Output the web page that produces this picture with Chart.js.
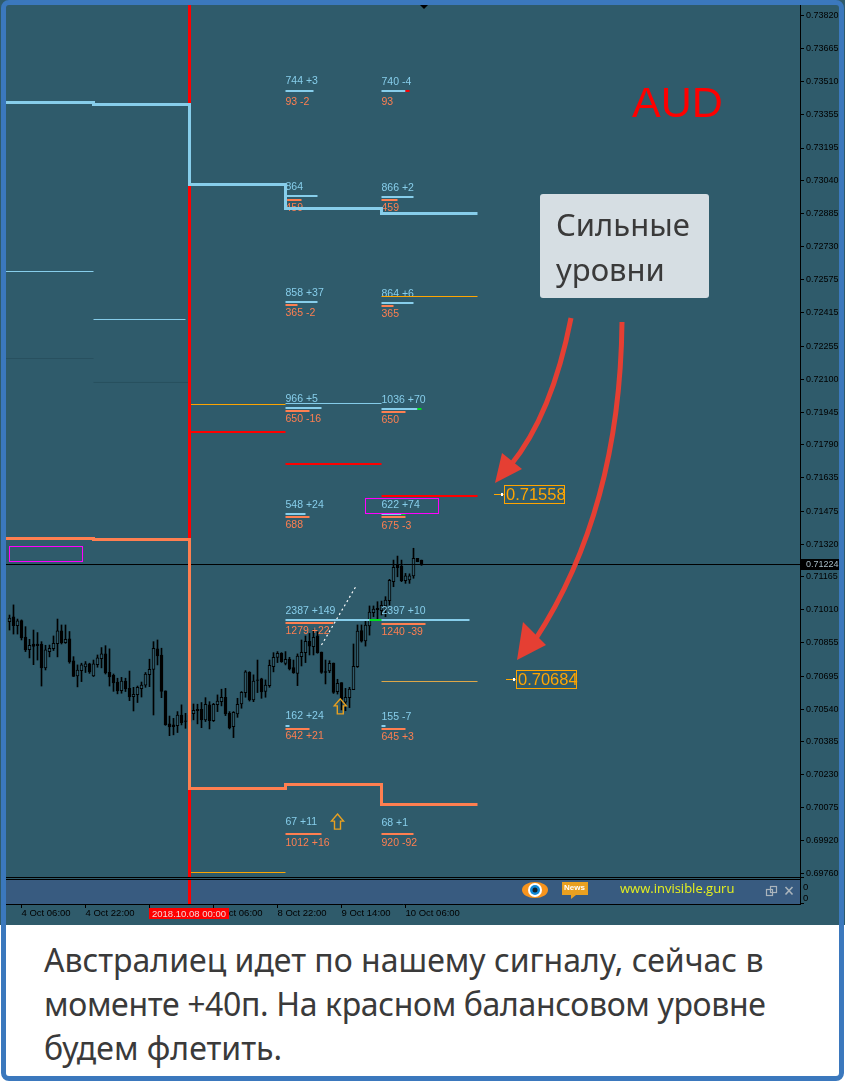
<!DOCTYPE html>
<html>
<head>
<meta charset="utf-8">
<title>AUD</title>
<script src="https://cdn.jsdelivr.net/npm/chart.js@4/dist/chart.umd.min.js"></script>
<style>
html, body { margin: 0; padding: 0; background: #fff; }
#wrap { position: relative; width: 845px; height: 1082px; overflow: hidden; }
#c { position: absolute; left: 0; top: 0; }
#frame { position: absolute; left: 1px; top: 0; width: 843px; height: 1081px; box-sizing: border-box;
  border: 5px solid #3b78bd; border-radius: 8px; pointer-events: none; }
#caption { position: absolute; left: 44px; top: 938px; font: 32px/44px "Noto Sans", sans-serif; color: #3a3a3a; white-space: nowrap; }
#caption span { letter-spacing: -0.35px; }
</style>
</head>
<body>
<div id="wrap">
  <canvas id="c" width="845" height="925"></canvas>
  <div id="caption">Австралиец идет по нашему сигналу, сейчас в<br><span>моменте +40п. На красном балансовом уровне</span><br>будем флетить.</div>
  <div id="frame"></div>
</div>
<script>
// H1 candles, index 45 = 2018.10.08 00:00
const opens = [0.70954,0.70976,0.70935,0.70959,0.70881,0.70821,0.70847,0.70847,0.70848,0.70735,0.70812,0.70826,0.70850,0.70910,0.70854,0.70872,0.70768,0.70697,0.70722,0.70739,0.70754,0.70697,0.70750,0.70779,0.70801,0.70714,0.70700,0.70668,0.70627,0.70672,0.70638,0.70599,0.70608,0.70637,0.70653,0.70703,0.70728,0.70825,0.70796,0.70626,0.70470,0.70465,0.70462,0.70512,0.70484,0.70481,0.70518,0.70539,0.70539,0.70489,0.70560,0.70485,0.70561,0.70575,0.70596,0.70520,0.70457,0.70517,0.70564,0.70618,0.70714,0.70583,0.70678,0.70683,0.70623,0.70651,0.70741,0.70785,0.70804,0.70756,0.70777,0.70736,0.70709,0.70788,0.70807,0.70861,0.70835,0.70886,0.70810,0.70717,0.70720,0.70758,0.70622,0.70665,0.70573,0.70594,0.70632,0.70741,0.70911,0.70862,0.70933,0.70996,0.71017,0.71006,0.71028,0.71053,0.71143,0.71220,0.71217,0.71148,0.71151,0.71170,0.71253,0.71245];
const highs = [0.70985,0.71033,0.70966,0.70962,0.70930,0.70870,0.70914,0.70902,0.70859,0.70842,0.70843,0.70886,0.70966,0.70938,0.70938,0.70907,0.70788,0.70749,0.70757,0.70765,0.70757,0.70772,0.70796,0.70831,0.70840,0.70825,0.70706,0.70686,0.70690,0.70686,0.70720,0.70643,0.70649,0.70668,0.70713,0.70776,0.70859,0.70867,0.70828,0.70626,0.70507,0.70496,0.70528,0.70560,0.70520,0.70536,0.70564,0.70563,0.70571,0.70594,0.70575,0.70567,0.70607,0.70634,0.70638,0.70528,0.70528,0.70591,0.70623,0.70722,0.70717,0.70702,0.70772,0.70686,0.70678,0.70772,0.70807,0.70812,0.70807,0.70812,0.70785,0.70772,0.70801,0.70867,0.70886,0.70898,0.70914,0.70906,0.70810,0.70772,0.70769,0.70758,0.70681,0.70665,0.70638,0.70643,0.70848,0.70938,0.70938,0.70961,0.71028,0.71028,0.71048,0.71051,0.71072,0.71154,0.71245,0.71264,0.71245,0.71182,0.71180,0.71301,0.71253,0.71245];
const lows = [0.70914,0.70895,0.70895,0.70867,0.70812,0.70782,0.70750,0.70772,0.70649,0.70725,0.70787,0.70817,0.70787,0.70848,0.70851,0.70757,0.70694,0.70645,0.70670,0.70713,0.70709,0.70694,0.70738,0.70735,0.70706,0.70649,0.70624,0.70612,0.70615,0.70623,0.70580,0.70531,0.70571,0.70597,0.70643,0.70646,0.70512,0.70749,0.70594,0.70463,0.70414,0.70418,0.70429,0.70465,0.70449,0.70457,0.70489,0.70470,0.70452,0.70481,0.70446,0.70481,0.70528,0.70555,0.70509,0.70446,0.70405,0.70501,0.70544,0.70596,0.70578,0.70575,0.70618,0.70591,0.70596,0.70643,0.70716,0.70760,0.70761,0.70749,0.70725,0.70709,0.70651,0.70744,0.70760,0.70796,0.70796,0.70804,0.70709,0.70659,0.70712,0.70614,0.70611,0.70536,0.70532,0.70547,0.70632,0.70737,0.70857,0.70838,0.70890,0.70977,0.70961,0.70985,0.70977,0.71032,0.71119,0.71166,0.71143,0.71135,0.71135,0.71159,0.71237,0.71220];
const closes = [0.70971,0.70935,0.70957,0.70877,0.70820,0.70842,0.70837,0.70840,0.70735,0.70820,0.70828,0.70851,0.70910,0.70853,0.70870,0.70763,0.70695,0.70725,0.70749,0.70754,0.70716,0.70754,0.70782,0.70801,0.70711,0.70692,0.70664,0.70626,0.70672,0.70635,0.70597,0.70610,0.70643,0.70653,0.70706,0.70728,0.70828,0.70791,0.70623,0.70466,0.70455,0.70457,0.70512,0.70476,0.70481,0.70512,0.70534,0.70533,0.70489,0.70563,0.70485,0.70563,0.70578,0.70596,0.70517,0.70451,0.70525,0.70563,0.70619,0.70716,0.70583,0.70672,0.70675,0.70621,0.70653,0.70747,0.70785,0.70804,0.70764,0.70775,0.70730,0.70712,0.70791,0.70808,0.70861,0.70838,0.70879,0.70807,0.70714,0.70714,0.70756,0.70619,0.70662,0.70586,0.70596,0.70635,0.70742,0.70909,0.70861,0.70938,0.70999,0.71013,0.71010,0.71031,0.71056,0.71149,0.71211,0.71209,0.71148,0.71170,0.71171,0.71253,0.71237,0.71222];

const yTickValues = [0.73820,0.73665,0.73510,0.73355,0.73195,0.73040,0.72885,0.72730,0.72575,0.72415,0.72255,0.72100,0.71945,0.71790,0.71635,0.71475,0.71320,0.71165,0.71010,0.70855,0.70695,0.70540,0.70385,0.70230,0.70075,0.69920,0.69760];
const xTickBars = [3,19,35,51,67,83,99];
const xTickLabels = ['4 Oct 06:00','4 Oct 22:00','5 Oct 14:00','8 Oct 06:00','8 Oct 22:00','9 Oct 14:00','10 Oct 06:00'];

const currentPrice = 0.71224;
const strongLevels = [0.71558, 0.70684];

// daily level steps: [bar, price]
const blueSteps = [[-1,0.734103],[21,0.734009],[45,0.730223],[69,0.729087],[93,0.728851],[117,0.728851]];
const coralSteps = [[-1,0.713472],[21,0.713424],[45,0.701642],[69,0.701831],[93,0.700885],[117,0.700885]];

// level pieces: [from bar, to bar, price]
const blueBars = [[69,76,0.73465],[93,99,0.73465],[69,77,0.72968],[93,101,0.72963],[69,77,0.72466],[93,101,0.72462],[69,78,0.71965],[93,102,0.71960],[69,74,0.71463],[93,98,0.71463],[69,115,0.70962],[69,70,0.70460],[93,94,0.70460]];
const coralBars = [[69.4,73,0.72949],[93,97,0.72949],[69,72,0.72452],[93,96,0.72447],[69,75,0.71950],[93,99,0.71946],[69,75,0.71449],[93,99,0.71449],[69,81,0.70947],[93,104,0.70943],[69,75,0.70446],[93,99,0.70446],[69,78,0.69949],[93,101,0.69949]];
const greenBars = [[102,103,0.71960],[98,99,0.71463],[90,93,0.70962]];
const redStubs = [[99,100,0.73465]];
const thinBlue = [[-1,21,0.726106],[21,44,0.723835],[69,93,0.719860]];
const thinOrange = [[45,69,0.719813],[93,117,0.724923],[45,69,0.697667]];
const thinSand = [[93,117,0.706705]];
const redLevels = [[45,69,0.71851],[69,93,0.71700],[93,117,0.71548]];
const faintLevels = [[-1,21,0.721989],[21,45,0.720854]];
const trendLine = [[78,0.70843],[86.8,0.71127]];
const dayBar = 45;

// [from bar, to bar, top price, bottom price]
const magentaBoxes = [[88.9,107.1,0.71539,0.71468],[-0.1,18.1,0.71312,0.71241]];
// [bar, price]
const upArrows = [[82.7,0.70555],[82,0.70010]];

// volume labels: [text, bar, price]
const blueLabels = [['744 +3',69,0.73517],['740 -4',93,0.73512],['864',69,0.73015],['866 +2',93,0.73010],['858 +37',69,0.72514],['864 +6',93,0.72509],['966 +5',69,0.72012],['1036 +70',93,0.72007],['548 +24',69,0.71510],['622 +74',93,0.71510],['2387 +149',69,0.71009],['2397 +10',93,0.71009],['162 +24',69,0.70512],['155 -7',93,0.70507],['67 +11',69,0.70010],['68 +1',93,0.70006]];
const coralLabels = [['93 -2',69,0.73417],['93',93,0.73417],['459',69,0.72916],['459',93,0.72916],['365 -2',69,0.72419],['365',93,0.72414],['650 -16',69,0.71917],['650',93,0.71913],['688',69,0.71416],['675 -3',93,0.71411],['1279 +22',69,0.70914],['1240 -39',93,0.70909],['642 +21',69,0.70417],['645 +3',93,0.70413],['1012 +16',69,0.69911],['920 -92',93,0.69911]];

const TEAL = '#2f5b6b';
const seg = rows => rows.flatMap(([a, b, p]) => [{x: a, y: p}, {x: b, y: p}, {x: b, y: null}]);
const lineSet = (data, color, width, order, extra) => Object.assign({
  type: 'line', data: data, borderColor: color, borderWidth: width, pointRadius: 0, order: order
}, extra || {});

// labels sit above the candles but under the level lines
const sideText = {
  id: 'sideText',
  beforeDatasetDraw(chart, args) {
    if (args.index !== 2) return;
    const ctx = chart.ctx, xs = chart.scales.x, ys = chart.scales.y;
    ctx.save();
    ctx.font = '10.5px "Liberation Sans"';
    ctx.textBaseline = 'middle';
    ctx.fillStyle = '#87ceeb';
    blueLabels.forEach(l => ctx.fillText(l[0], xs.getPixelForValue(l[1]), ys.getPixelForValue(l[2]) + 1));
    ctx.fillStyle = '#ff7f50';
    coralLabels.forEach(l => ctx.fillText(l[0], xs.getPixelForValue(l[1]), ys.getPixelForValue(l[2]) + 1));
    ctx.restore();
  }
};

function arrow(ctx, x0, y0, cx, cy, x1, y1, tip, b1, b2) {
  ctx.strokeStyle = ctx.fillStyle = '#e53f33';
  ctx.lineWidth = 5;
  ctx.beginPath(); ctx.moveTo(x0, y0); ctx.quadraticCurveTo(cx, cy, x1, y1); ctx.stroke();
  ctx.beginPath(); ctx.moveTo(tip[0], tip[1]); ctx.lineTo(b1[0], b1[1]); ctx.lineTo(b2[0], b2[1]); ctx.fill();
}

const overlay = {
  id: 'overlay',
  afterDatasetsDraw(chart) {
    const ctx = chart.ctx, xs = chart.scales.x, ys = chart.scales.y;
    ctx.save();

    // magenta boxes
    ctx.strokeStyle = '#ff00ff';
    ctx.lineWidth = 1;
    magentaBoxes.forEach(b => {
      const x = Math.round(xs.getPixelForValue(b[0])) + 0.5, y = Math.round(ys.getPixelForValue(b[2])) + 0.5;
      ctx.strokeRect(x, y, Math.round(xs.getPixelForValue(b[1])) + 0.5 - x, Math.round(ys.getPixelForValue(b[3])) + 0.5 - y);
    });

    // up arrows
    ctx.strokeStyle = '#e8a020';
    ctx.lineWidth = 1.4;
    upArrows.forEach(a => {
      const x = xs.getPixelForValue(a[0]), y = ys.getPixelForValue(a[1]);
      ctx.beginPath();
      ctx.moveTo(x, y - 7); ctx.lineTo(x + 6, y); ctx.lineTo(x + 3, y); ctx.lineTo(x + 3, y + 8);
      ctx.lineTo(x - 3, y + 8); ctx.lineTo(x - 3, y); ctx.lineTo(x - 6, y); ctx.closePath();
      ctx.stroke();
    });

    // strong level labels
    ctx.font = '16.5px "Liberation Sans"';
    ctx.textBaseline = 'middle';
    [504, 516].forEach((x, n) => {
      const y = Math.round(ys.getPixelForValue(strongLevels[n]));
      ctx.strokeStyle = ctx.fillStyle = '#ffa500';
      ctx.lineWidth = 1;
      ctx.strokeRect(x + 0.5, y - 8.5, 60, 18);
      ctx.beginPath(); ctx.moveTo(x - 10, y + 0.5); ctx.lineTo(x, y + 0.5); ctx.stroke();
      ctx.fillText(strongLevels[n].toFixed(5), x + 2, y + 1);
      ctx.fillStyle = '#fff';
      ctx.fillRect(x - 3, y - 1, 2, 3);
    });

    // AUD title
    ctx.fillStyle = '#ff0000';
    ctx.font = '43px "Liberation Sans"';
    ctx.textBaseline = 'alphabetic';
    ctx.fillText('AUD', 632, 117);

    // note box
    ctx.fillStyle = '#d6dee3';
    ctx.beginPath(); ctx.roundRect(540, 194, 169, 104, 3); ctx.fill();
    ctx.fillStyle = '#3a3a3a';
    ctx.font = '31px "Noto Sans"';
    ctx.fillText('Сильные', 556, 236);
    ctx.fillText('уровни', 556, 281);

    arrow(ctx, 571, 318, 552, 415, 510, 466, [495, 483], [502, 453], [522, 469]);
    arrow(ctx, 622, 322, 620, 510, 535, 640, [517, 660], [523, 622], [546, 645]);

    // shift marker on top
    ctx.fillStyle = '#000';
    ctx.beginPath(); ctx.moveTo(420, 5); ctx.lineTo(428, 5); ctx.lineTo(424, 9); ctx.fill();

    // lower indicator window
    ctx.fillStyle = TEAL;
    ctx.fillRect(6, 877, 794, 3);
    ctx.fillStyle = '#385b80';
    ctx.fillRect(6, 880, 794, 24);
    ctx.fillStyle = '#000';
    ctx.fillRect(6, 877, 794, 1);
    ctx.fillRect(6, 879, 794, 1);
    ctx.fillStyle = '#ff0000';
    ctx.fillRect(xs.getPixelForValue(dayBar) - 1.5, 880, 3, 24);

    // eye icon
    ctx.fillStyle = '#f7941d';
    ctx.beginPath(); ctx.ellipse(535, 890, 13, 8, 0, 0, Math.PI * 2); ctx.fill();
    ctx.fillStyle = '#fff';
    ctx.beginPath(); ctx.arc(535, 890, 7, 0, Math.PI * 2); ctx.fill();
    ctx.fillStyle = '#0f8ad8';
    ctx.beginPath(); ctx.arc(535, 890, 5, 0, Math.PI * 2); ctx.fill();
    ctx.fillStyle = '#10202c';
    ctx.beginPath(); ctx.arc(535, 890, 2.5, 0, Math.PI * 2); ctx.fill();

    // news icon
    ctx.fillStyle = '#e9a020';
    ctx.fillRect(562, 882, 26, 13);
    ctx.beginPath(); ctx.moveTo(571, 895); ctx.lineTo(576, 895); ctx.lineTo(571, 899); ctx.fill();
    ctx.fillStyle = '#fff';
    ctx.font = 'bold 8px "Liberation Sans"';
    ctx.textBaseline = 'middle';
    ctx.fillText('News', 564, 888);

    ctx.fillStyle = '#e6f01e';
    ctx.font = '13px "Open Sans"';
    ctx.fillText('www.invisible.guru', 620, 889);

    // window buttons
    ctx.strokeStyle = '#aab4bc';
    ctx.lineWidth = 1.2;
    ctx.strokeRect(766.5, 889.5, 6, 6);
    ctx.strokeRect(770.5, 886.5, 6, 6);
    ctx.lineWidth = 1.6;
    ctx.beginPath();
    ctx.moveTo(785.5, 887); ctx.lineTo(792.5, 894.5);
    ctx.moveTo(792.5, 887); ctx.lineTo(785.5, 894.5);
    ctx.stroke();

    // right scale of the indicator window
    ctx.fillStyle = '#000';
    ctx.font = '9.5px "Liberation Sans"';
    ctx.fillText('0', 803, 887);
    ctx.fillText('0', 803, 898);
    ctx.fillRect(800, 877, 4, 1);
    ctx.fillRect(800, 903, 4, 1);

    // current price tag
    const cy = Math.round(ys.getPixelForValue(currentPrice));
    ctx.fillStyle = '#000';
    ctx.fillRect(801, cy - 6, 38, 11);
    ctx.fillStyle = '#a8bcc6';
    ctx.font = '9px "Liberation Sans"';
    ctx.fillText(currentPrice.toFixed(5), 806, cy);

    // date tag over the time axis
    ctx.fillStyle = '#ff0000';
    ctx.fillRect(149, 908, 80, 11);
    ctx.fillStyle = '#f2d8d8';
    ctx.font = '9.5px "Liberation Sans"';
    ctx.fillText('2018.10.08 00:00', 152, 914);
    ctx.restore();
  }
};

const fixScale = (w, h) => scale => {
  if (w) scale.width = w;
  if (h) scale.height = h;
  scale.paddingTop = scale.paddingBottom = scale.paddingLeft = scale.paddingRight = 0;
};

new Chart(document.getElementById('c'), {
  type: 'bar',
  data: {
    datasets: [
      { label: 'wick', grouped: false, order: 20, barThickness: 1, backgroundColor: '#000', borderWidth: 0,
        data: highs.map((h, i) => ({x: i, y: [lows[i], h]})) },
      { label: 'body', grouped: false, order: 19, barThickness: 3, borderColor: '#000', borderWidth: 1, borderSkipped: false,
        backgroundColor: closes.map((c, i) => c > opens[i] ? TEAL : '#000'),
        data: closes.map((c, i) => ({x: i, y: [Math.min(opens[i], c), Math.max(opens[i], c)]})) },
      lineSet(seg(faintLevels), '#28505f', 1, 18),
      lineSet([{x: -1, y: currentPrice}, {x: 198, y: currentPrice}], '#000', 1, 17),
      lineSet(trendLine.map(p => ({x: p[0], y: p[1]})), '#fff', 1.2, 16, {borderDash: [2, 3]}),
      lineSet(seg(thinBlue), '#87ceeb', 1, 15),
      lineSet(seg(thinOrange), '#ffa500', 1, 14),
      lineSet(seg(thinSand), '#e0a848', 1, 14),
      lineSet(seg(redLevels), '#ff0000', 2, 13),
      lineSet(seg(coralBars), '#ff7f50', 2, 12),
      lineSet(seg(blueBars), '#87ceeb', 2, 11),
      lineSet(seg(greenBars), '#00e020', 2, 10),
      lineSet(seg(redStubs), '#ff0000', 2, 9),
      lineSet([{x: dayBar, y: 0.739}, {x: dayBar, y: 0.69745}], '#ff0000', 3, 8),
      lineSet(blueSteps.map(p => ({x: p[0], y: p[1]})), '#87ceeb', 3, 7, {stepped: true}),
      lineSet(coralSteps.map(p => ({x: p[0], y: p[1]})), '#ff7f50', 3, 6, {stepped: true})
    ]
  },
  options: {
    responsive: false,
    animation: false,
    events: [],
    layout: { padding: { left: 6, top: 5, right: 0, bottom: 0 } },
    plugins: { legend: { display: false }, tooltip: { enabled: false } },
    scales: {
      x: {
        type: 'linear', min: -0.875, max: 197.625, offset: false,
        afterBuildTicks: s => { s.ticks = xTickBars.map(v => ({value: v})); },
        afterFit: fixScale(0, 21),
        grid: { drawOnChartArea: false, offset: false, color: '#000', tickLength: 4, tickColor: '#000' },
        border: { color: '#000' },
        ticks: {
          autoSkip: false, maxRotation: 0, align: 'start', padding: 0, color: '#000',
          font: { family: '"Liberation Sans"', size: 9.5 },
          callback: v => xTickLabels[xTickBars.indexOf(v)]
        }
      },
      y: {
        position: 'right', min: 0.696176, max: 0.738717,
        afterBuildTicks: s => { s.ticks = yTickValues.map(v => ({value: v})); },
        afterFit: fixScale(45, 0),
        grid: { drawOnChartArea: false, color: '#000', tickLength: 4, tickColor: '#000' },
        border: { color: '#000' },
        ticks: {
          autoSkip: false, padding: 2, color: '#000',
          font: { family: '"Liberation Sans"', size: 9 },
          callback: v => v.toFixed(5)
        }
      }
    }
  },
  plugins: [
    { id: 'bg', beforeDraw(chart) { chart.ctx.fillStyle = TEAL; chart.ctx.fillRect(0, 0, 845, 925); } },
    sideText, overlay
  ]
});
</script>
</body>
</html>
